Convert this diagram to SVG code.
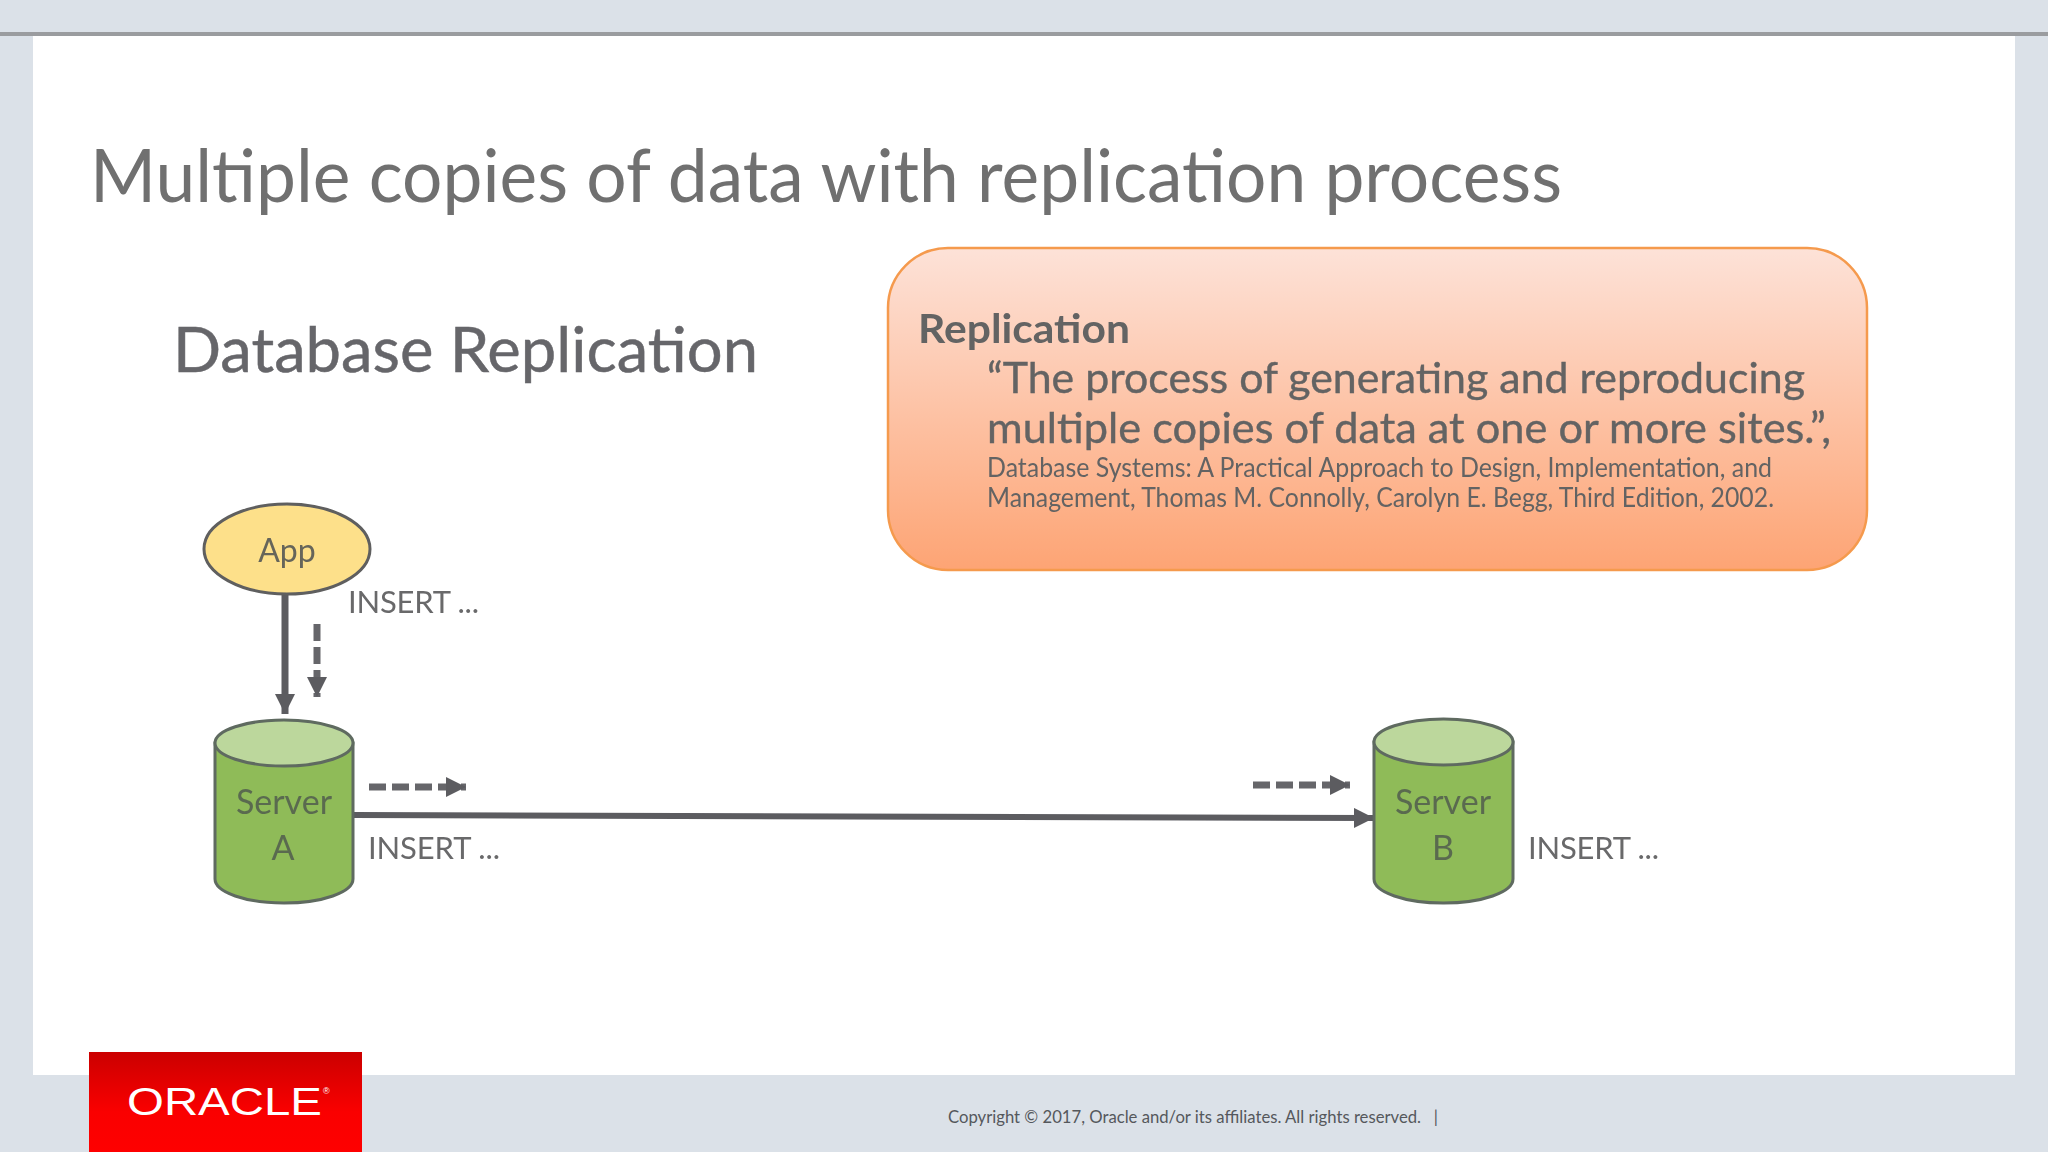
<svg xmlns="http://www.w3.org/2000/svg" width="2048" height="1152" viewBox="0 0 2048 1152">
<style>
text{font-family:Lato,"Open Sans",sans-serif;fill:#636363}
.lbl{font-size:31px;fill:#69696b}
.srv{font-size:34px;fill:#5a6b50;text-anchor:middle}
.solid{fill:none;stroke:#5b5b60;stroke-width:6}
.dash{fill:none;stroke:#66666b;stroke-width:7;stroke-dasharray:17 6}
.body{fill:#8fbb58;stroke:#5e6a60;stroke-width:3}
.top{fill:#bcd79c;stroke:#5e6a60;stroke-width:3}
</style>
<defs>
<linearGradient id="orange" x1="0" y1="0" x2="0" y2="1"><stop offset="0" stop-color="#fde2d8"/><stop offset="1" stop-color="#fda474"/></linearGradient>
<linearGradient id="red" x1="0" y1="0" x2="0" y2="1"><stop offset="0" stop-color="#cb0000"/><stop offset="0.6" stop-color="#fa0000"/><stop offset="1" stop-color="#fe0000"/></linearGradient>
<marker id="head" markerUnits="userSpaceOnUse" markerWidth="24" markerHeight="24" refX="20" refY="10" orient="auto"><path d="M0 0L20 10L0 20Z" fill="#5b5b60"/></marker>
<filter id="soft" x="-5%" y="-5%" width="110%" height="110%"><feGaussianBlur stdDeviation="0.6"/></filter>
</defs>
<rect id="frame" width="2048" height="1152" fill="#dbe1e8"/>
<rect x="33" y="36" width="1982" height="1039" fill="#fff"/>
<rect y="32" width="2048" height="4" fill="#9a9c9f"/>
<text x="90" y="202" font-size="73" textLength="1472" lengthAdjust="spacingAndGlyphs" style="fill:#707070">Multiple copies of data with replication process</text>
<text x="173" y="372" font-size="62" textLength="585" lengthAdjust="spacingAndGlyphs" style="fill:#66666a;stroke:#66666a;stroke-width:0.5">Database Replication</text>
<g id="callout" filter="url(#soft)">
<rect x="888" y="248" width="979" height="322" rx="60" fill="url(#orange)" stroke="#f59a4e" stroke-width="2.5"/>
<text x="918" y="343" font-size="40" font-weight="700" textLength="212" lengthAdjust="spacingAndGlyphs">Replication</text>
<text x="987" y="393" font-size="43" textLength="818" lengthAdjust="spacingAndGlyphs" style="stroke:#636363;stroke-width:0.4">“The process of generating and reproducing</text>
<text x="987" y="443" font-size="43" textLength="844" lengthAdjust="spacingAndGlyphs" style="stroke:#636363;stroke-width:0.4">multiple copies of data at one or more sites.”,</text>
<text x="987" y="477" font-size="26" textLength="785" lengthAdjust="spacingAndGlyphs">Database Systems: A Practical Approach to Design, Implementation, and</text>
<text x="987" y="507" font-size="26" textLength="787" lengthAdjust="spacingAndGlyphs">Management, Thomas M. Connolly, Carolyn E. Begg, Third Edition, 2002.</text>
</g>
<g id="connectors" filter="url(#soft)">
<path class="solid" d="M285 594V714" marker-end="url(#head)" style="stroke-width:7"/>
<path class="dash" d="M317 624V697" marker-end="url(#head)"/>
<path class="solid" d="M353 815L1374 818" marker-end="url(#head)"/>
<path class="dash" d="M369 787H466" marker-end="url(#head)"/>
<path class="dash" d="M1253 785H1350" marker-end="url(#head)"/>
</g>
<g id="app" filter="url(#soft)">
<ellipse cx="287" cy="549" rx="83" ry="45" fill="#fde08a" stroke="#5e5e5e" stroke-width="3"/>
<text x="287" y="562" font-size="32" text-anchor="middle" style="fill:#66655a">App</text>
</g>
<g id="server-a" filter="url(#soft)">
<path class="body" d="M215 743V879A69 24 0 0 0 353 879V743Z"/>
<ellipse class="top" cx="284" cy="743" rx="69" ry="23"/>
<text class="srv" x="284" y="814">Server</text>
<text class="srv" x="283" y="860">A</text>
</g>
<g id="server-b" filter="url(#soft)">
<path class="body" d="M1374 742V879A69.500 24 0 0 0 1513 879V742Z"/>
<ellipse class="top" cx="1443.500" cy="742" rx="69.500" ry="23"/>
<text class="srv" x="1443" y="814">Server</text>
<text class="srv" x="1443" y="860">B</text>
</g>
<g id="labels" filter="url(#soft)">
<text class="lbl" x="348" y="613" textLength="131">INSERT ...</text>
<text class="lbl" x="368" y="859" textLength="132">INSERT ...</text>
<text class="lbl" x="1528" y="859" textLength="131">INSERT ...</text>
</g>
<g id="oracle">
<rect x="89" y="1052" width="273" height="100" fill="url(#red)"/>
<text x="127" y="1115" font-size="38" textLength="195" lengthAdjust="spacingAndGlyphs" style="font-family:'Liberation Sans',sans-serif;fill:#fff">ORACLE</text>
<text x="323" y="1094" font-size="9" style="font-family:'Liberation Sans',sans-serif;fill:#fff">®</text>
</g>
<text id="footer" x="948" y="1123" font-size="17" textLength="490" lengthAdjust="spacingAndGlyphs" style="fill:#55585c;white-space:pre">Copyright © 2017, Oracle and/or its affiliates. All rights reserved.   |</text>
</svg>
